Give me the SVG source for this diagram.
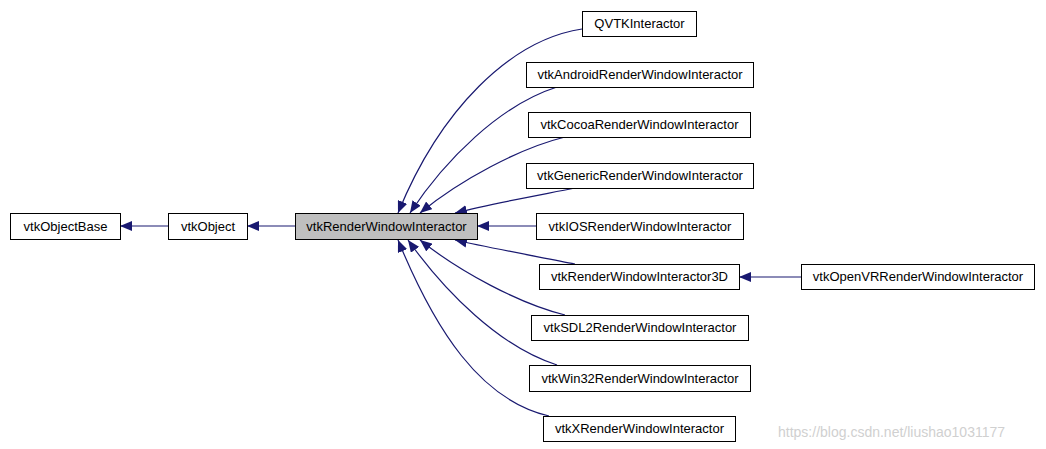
<svg xmlns="http://www.w3.org/2000/svg" width="1046" height="449" viewBox="0 0 1046 449">
<style>
.n rect{fill:#fff;stroke:#000;stroke-width:1}
.n text{font-family:"Liberation Sans",Arial,sans-serif;font-size:13px;fill:#000;text-anchor:middle}
.e path{fill:none;stroke:#191970;stroke-width:1.2}
.wm{font-family:"Liberation Sans",Arial,sans-serif;font-size:14px;fill:#d0d0d0}
</style>
<defs>
<marker id="a" viewBox="0 0 12 10" refX="12" refY="5" markerWidth="12" markerHeight="10" markerUnits="userSpaceOnUse" orient="auto">
<path d="M0,0 L12,5 L0,10 z" fill="#191970"/>
</marker>
</defs>
<rect width="1046" height="449" fill="#fff"/>
<g class="e">
<path d="M168,226 H120" marker-end="url(#a)"/>
<path d="M295,226 H247" marker-end="url(#a)"/>
<path d="M582,29 C510,40 440,110 398,213" marker-end="url(#a)"/>
<path d="M557,87 C500,105 445,160 410,213" marker-end="url(#a)"/>
<path d="M565,137 C520,148 460,180 420,213" marker-end="url(#a)"/>
<path d="M575,188 C540,195 490,204 455,213" marker-end="url(#a)"/>
<path d="M536,226 H477" marker-end="url(#a)"/>
<path d="M575,264 C540,257 490,248 455,240" marker-end="url(#a)"/>
<path d="M565,315 C520,304 460,272 420,240" marker-end="url(#a)"/>
<path d="M557,365 C500,347 445,292 408,240" marker-end="url(#a)"/>
<path d="M549,416 C480,400 435,330 398,240" marker-end="url(#a)"/>
<path d="M801,277 H739" marker-end="url(#a)"/>
</g>
<g id="vtkObjectBase" class="n"><rect x="10.5" y="213.5" width="110" height="26"/><text x="65.5" y="231">vtkObjectBase</text></g>
<g id="vtkObject" class="n"><rect x="168.5" y="213.5" width="79" height="26"/><text x="208" y="231">vtkObject</text></g>
<g id="vtkRenderWindowInteractor" class="n"><rect x="295.5" y="213.5" width="182" height="26" style="fill:#bfbfbf"/><text x="386.5" y="231">vtkRenderWindowInteractor</text></g>
<g id="QVTKInteractor" class="n"><rect x="582.5" y="11.5" width="114" height="25"/><text x="639.5" y="28">QVTKInteractor</text></g>
<g id="vtkAndroidRenderWindowInteractor" class="n"><rect x="526.5" y="62.5" width="227" height="25"/><text x="640" y="79">vtkAndroidRenderWindowInteractor</text></g>
<g id="vtkCocoaRenderWindowInteractor" class="n"><rect x="528.5" y="112.5" width="222" height="25"/><text x="639.5" y="129">vtkCocoaRenderWindowInteractor</text></g>
<g id="vtkGenericRenderWindowInteractor" class="n"><rect x="526.5" y="163.5" width="227" height="25"/><text x="640" y="180">vtkGenericRenderWindowInteractor</text></g>
<g id="vtkIOSRenderWindowInteractor" class="n"><rect x="536.5" y="213.5" width="207" height="26"/><text x="640" y="231">vtkIOSRenderWindowInteractor</text></g>
<g id="vtkRenderWindowInteractor3D" class="n"><rect x="539.5" y="264.5" width="200" height="25"/><text x="639.5" y="281">vtkRenderWindowInteractor3D</text></g>
<g id="vtkSDL2RenderWindowInteractor" class="n"><rect x="531.5" y="315.5" width="217" height="25"/><text x="640" y="332">vtkSDL2RenderWindowInteractor</text></g>
<g id="vtkWin32RenderWindowInteractor" class="n"><rect x="529.5" y="365.5" width="221" height="26"/><text x="640" y="383">vtkWin32RenderWindowInteractor</text></g>
<g id="vtkXRenderWindowInteractor" class="n"><rect x="543.5" y="416.5" width="192" height="25"/><text x="639.5" y="433">vtkXRenderWindowInteractor</text></g>
<g id="vtkOpenVRRenderWindowInteractor" class="n"><rect x="801.5" y="264.5" width="233" height="25"/><text x="918" y="281">vtkOpenVRRenderWindowInteractor</text></g>
<text class="wm" x="778" y="437">https://blog.csdn.net/liushao1031177</text>
</svg>
